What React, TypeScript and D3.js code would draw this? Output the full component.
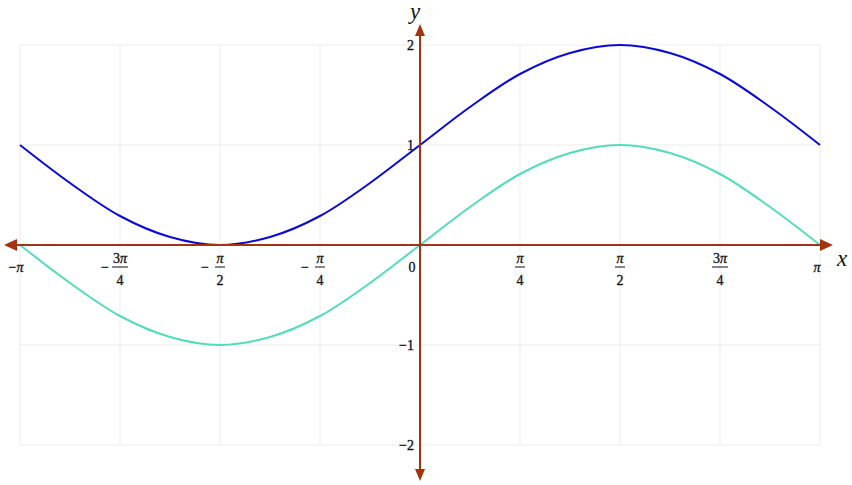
import * as d3 from "d3";

const W = 852;
const H = 485;

// sampled points (x in radians, steps of π/8)
const xValues = [
  -3.1416, -2.7489, -2.3562, -1.9635, -1.5708, -1.1781, -0.7854, -0.3927, 0,
  0.3927, 0.7854, 1.1781, 1.5708, 1.9635, 2.3562, 2.7489, 3.1416,
];
const sinValues = [
  0, -0.38, -0.71, -0.92, -1, -0.92, -0.71, -0.38, 0, 0.38, 0.71, 0.92, 1,
  0.92, 0.71, 0.38, 0,
];
const shiftedValues = [
  1, 0.62, 0.29, 0.08, 0, 0.08, 0.29, 0.62, 1, 1.38, 1.71, 1.92, 2, 1.92,
  1.71, 1.38, 1,
];

const xTicks = [
  -3.1416, -2.3562, -1.5708, -0.7854, 0, 0.7854, 1.5708, 2.3562, 3.1416,
];
// [sign, coefficient, denominator]
const xTickLabels: [string, string, string][] = [
  ["−", "π", ""],
  ["−", "3π", "4"],
  ["−", "π", "2"],
  ["−", "π", "4"],
  ["", "0", ""],
  ["", "π", "4"],
  ["", "π", "2"],
  ["", "3π", "4"],
  ["", "π", ""],
];
const yTicks = [-2, -1, 1, 2];
const yTickLabels = ["−2", "−1", "1", "2"];

const axisColor = "#a3340f";
const gridColor = "#ececec";
const font = "Liberation Serif, DejaVu Serif, serif";

const x = d3.scaleLinear().domain([-Math.PI, Math.PI]).range([20, 820]);
const y = d3.scaleLinear().domain([-2, 2]).range([445, 45]);

const line = d3
  .line<number>()
  .x((_, i) => x(xValues[i]))
  .y((d) => y(d))
  .curve(d3.curveCatmullRom);

// split "3π" into upright digits + italic π
const mathText = (s: string) => {
  const k = s.indexOf("π");
  if (k < 0) return s;
  return (
    <>
      {s.slice(0, k)}
      <tspan fontStyle="italic">π</tspan>
    </>
  );
};

const App = () => {
  const x0 = x(0);
  const y0 = y(0);
  const [xl, xr] = x.range();
  const [yb, yt] = y.range();
  return (
    <svg
      width={W}
      height={H}
      style={{ position: "absolute", left: 0, top: 0, background: "#fff" }}
    >
      <g stroke={gridColor} strokeWidth={1}>
        {xTicks.map((t, i) => (
          <line key={"gx" + i} x1={x(t)} x2={x(t)} y1={yt} y2={yb} />
        ))}
        {[-2, -1, 0, 1, 2].map((t, i) => (
          <line key={"gy" + i} x1={xl} x2={xr} y1={y(t)} y2={y(t)} />
        ))}
      </g>

      <path d={line(shiftedValues) ?? ""} fill="none" stroke="#0a0ad4" strokeWidth={2} />
      <path d={line(sinValues) ?? ""} fill="none" stroke="#52dcbb" strokeWidth={2} />

      {/* axes */}
      <g stroke={axisColor} strokeWidth={2}>
        <line x1={xl - 4} x2={xr + 2} y1={y0} y2={y0} />
        <line x1={x0} x2={x0} y1={yt - 10} y2={yb + 24} />
      </g>
      <g fill={axisColor}>
        <polygon points={`${xl - 16},${y0} ${xl - 3},${y0 - 6} ${xl - 3},${y0 + 6}`} />
        <polygon points={`${xr + 13},${y0} ${xr},${y0 - 6} ${xr},${y0 + 6}`} />
        <polygon points={`${x0},${yt - 21} ${x0 - 5},${yt - 9} ${x0 + 5},${yt - 9}`} />
        <polygon points={`${x0},${yb + 36} ${x0 - 5},${yb + 24} ${x0 + 5},${yb + 24}`} />
      </g>

      {/* x tick labels */}
      <g style={{ fontFamily: font }} fill="#111" stroke="#111" strokeWidth={0.3}>
        {xTicks.map((t, i) => {
          const [sign, num, den] = xTickLabels[i];
          const cx = x(t);
          if (!den) {
            return (
              <text
                key={"xl" + i}
                x={t === 0 ? cx - 8 : cx - (sign ? 4 : 3)}
                y={y0 + 27}
                fontSize={14}
                textAnchor="middle"
              >
                {sign}
                {mathText(num)}
              </text>
            );
          }
          const w = num.length > 1 ? 16 : 10;
          return (
            <g key={"xl" + i} fontSize={14}>
              {sign && (
                <text x={cx - 15} y={y0 + 27} textAnchor="middle">
                  {sign}
                </text>
              )}
              <text x={cx} y={y0 + 18} textAnchor="middle">
                {mathText(num)}
              </text>
              <line
                x1={cx - w / 2}
                x2={cx + w / 2}
                y1={y0 + 22}
                y2={y0 + 22}
                stroke="#111"
                strokeWidth={1}
              />
              <text x={cx} y={y0 + 40} textAnchor="middle">
                {den}
              </text>
            </g>
          );
        })}
      </g>

      {/* y tick labels */}
      <g style={{ fontFamily: font }} fill="#111" stroke="#111" strokeWidth={0.3} fontSize={14}>
        {yTicks.map((t, i) => (
          <text key={"yl" + i} x={x0 - 6} y={y(t) + 5} textAnchor="end">
            {yTickLabels[i]}
          </text>
        ))}
      </g>

      <text x={xr + 17} y={y0 + 21} style={{ fontFamily: font }} fontStyle="italic" fontSize={23} fill="#111">
        x
      </text>
      <text x={x0 - 10} y={19} style={{ fontFamily: font }} fontStyle="italic" fontSize={23} fill="#111">
        y
      </text>
    </svg>
  );
};

export default App;
